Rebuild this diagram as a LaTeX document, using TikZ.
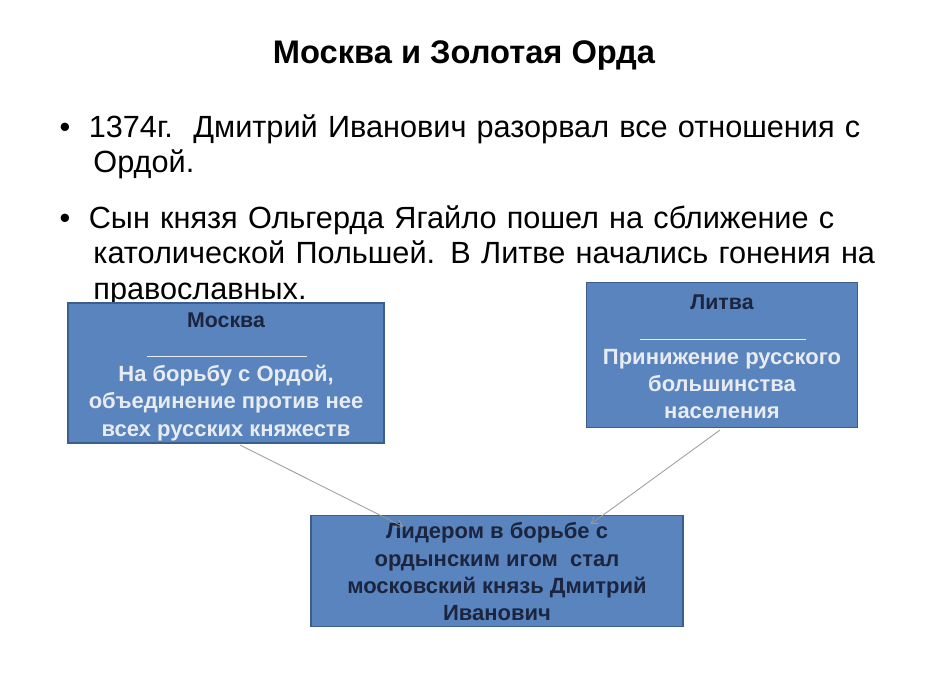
\documentclass[tikz,border=0pt]{standalone}
\usepackage{fontspec}
\setmainfont{Liberation Sans}
\usetikzlibrary{arrows.meta}
\definecolor{boxblue}{HTML}{5A84BD}
\definecolor{boxline}{HTML}{3A5F8F}
\definecolor{lighttext}{HTML}{E8ECF2}
\definecolor{darktext}{HTML}{1C2540}
\tikzset{
  infobox/.style={draw=boxline, line width=1pt, fill=boxblue, align=center, inner sep=0pt},
  boxtext/.style={align=center, font=\bfseries\fontsize{16.5}{20.5}\selectfont},
  bullettext/.style={anchor=north west, text width=650pt, align=left,
    font=\fontsize{23}{26.5}\selectfont},
  linkarrow/.style={draw=gray!80, line width=0.6pt, -{Straight Barb[length=5pt,width=6pt]}}
}
\begin{document}
\begin{tikzpicture}[x=0.75pt,y=-0.75pt]
				\useasboundingbox (0,0) rectangle (928,696);
				\fill[white] (0,0) rectangle (928,696);

				% titre
				\node[font=\bfseries\fontsize{24.5}{28}\selectfont] (title) at (464,55) {Москва и Золотая Орда};

				% puces
				\node[bullettext] (bullet1) at (55,110)
					{\textbullet\hspace{0.6em}1374г.\ \ Дмитрий Иванович разорвал все отношения с\\ \hspace*{1.1em}Ордой.};
				\node[bullettext] (bullet2) at (55,201)
					{\textbullet\hspace{0.6em}Сын князя Ольгерда Ягайло пошел на сближение с\\ \hspace*{1.1em}католической Польшей. В Литве начались гонения на\\ \hspace*{1.1em}православных.};

				% boite Moscou
				\node[infobox, minimum width=237pt, minimum height=105pt] (moscow) at (226,373) {};
				\node[text=darktext, font=\bfseries\fontsize{16}{19}\selectfont] (moscowhead) at (226,320) {Москва};
				\draw[lighttext, line width=0.6pt] (147,356) -- (307,356);
				\node[boxtext, text=lighttext] (moscowtext) at (226,403)
					{На борьбу с Ордой,\\объединение против нее\\всех русских княжеств};

				% boite Lituanie
				\node[infobox, minimum width=203pt, minimum height=109pt] (lithuania) at (722,355) {};
				\node[text=darktext, font=\bfseries\fontsize{16}{19}\selectfont] (lithhead) at (722,302) {Литва};
				\draw[lighttext, line width=0.6pt] (640,339) -- (806,339);
				\node[boxtext, text=lighttext] (lithtext) at (722,384)
					{Принижение русского\\большинства\\населения};

				% boite resultat
				\node[infobox, minimum width=279pt, minimum height=83pt] (leader) at (497,571) {};
				\node[boxtext, text=darktext] (leadertext) at (497,572)
					{Лидером в борьбе с\\ордынским игом\ \ стал\\московский князь Дмитрий\\Иванович};

				% fleches
				\coordinate (mtail) at (240,445);
				\coordinate (ltail) at (720,430);
				\draw[linkarrow] (mtail) -- ([xshift=-70pt,yshift=-9pt]leader.north);
				\draw[linkarrow] (ltail) -- ([xshift=70pt,yshift=-7pt]leader.north);
			\end{tikzpicture}
\end{document}
